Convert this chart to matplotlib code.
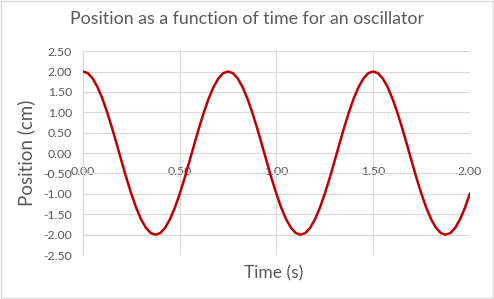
import matplotlib
matplotlib.use('Agg')
import matplotlib.pyplot as plt
import numpy as np

# time samples (s) and position (cm)
time = [round(0.025 * i, 3) for i in range(81)]
cycle = [2.00, 1.96, 1.83, 1.62, 1.34, 1.00, 0.62, 0.21, -0.21, -0.62,
         -1.00, -1.34, -1.62, -1.83, -1.96, -2.00, -1.96, -1.83, -1.62, -1.34,
         -1.00, -0.62, -0.21, 0.21, 0.62, 1.00, 1.34, 1.62, 1.83, 1.96]
position = (cycle * 3)[:81]

xticks = [0.0, 0.5, 1.0, 1.5, 2.0]
yticks = [2.5, 2.0, 1.5, 1.0, 0.5, 0.0, -0.5, -1.0, -1.5, -2.0, -2.5]

title = "Position as a function of time for an oscillator"
xaxis = "Time (s)"
yaxis = "Position (cm)"

plt.rcParams['font.family'] = ['Lato', 'DejaVu Sans']
txt = '#595959'
grid = '#d9d9d9'

fig = plt.figure(figsize=(4.94, 2.99), dpi=100)
ax = fig.add_axes([0.168, 0.147, 0.783, 0.682])

ax.plot(time, position, color='#c00000', lw=1.8, zorder=3)

ax.set_xlim(0, 2)
ax.set_ylim(-2.5, 2.5)
ax.set_xticks(xticks)
ax.set_yticks(yticks)
ax.set_xticklabels(['%.2f' % v for v in xticks])
ax.set_yticklabels(['%.2f' % v for v in yticks])
ax.grid(True, color=grid, lw=0.8)
ax.set_axisbelow(True)

for s in ['top', 'right']:
    ax.spines[s].set_visible(False)
ax.spines['left'].set_color(grid)
ax.spines['bottom'].set_color(grid)
ax.spines['bottom'].set_position(('data', 0))
ax.tick_params(length=0, labelsize=8.8, colors=txt)
ax.tick_params(axis='x', pad=9)
ax.tick_params(axis='y', pad=8)

fig.text(0.5, 0.935, title, ha='center', va='center', fontsize=12.8, color=txt)
fig.text(0.554, 0.087, xaxis, ha='center', va='center', fontsize=12.5, color=txt)
fig.text(0.053, 0.49, yaxis, ha='center', va='center', rotation=90,
         fontsize=13.5, color=txt)

fig.patches.append(plt.Rectangle((0.002, 0.003), 0.996, 0.994, transform=fig.transFigure,
                                 fill=False, edgecolor=grid, lw=1))

plt.savefig('out.png', dpi=100)
